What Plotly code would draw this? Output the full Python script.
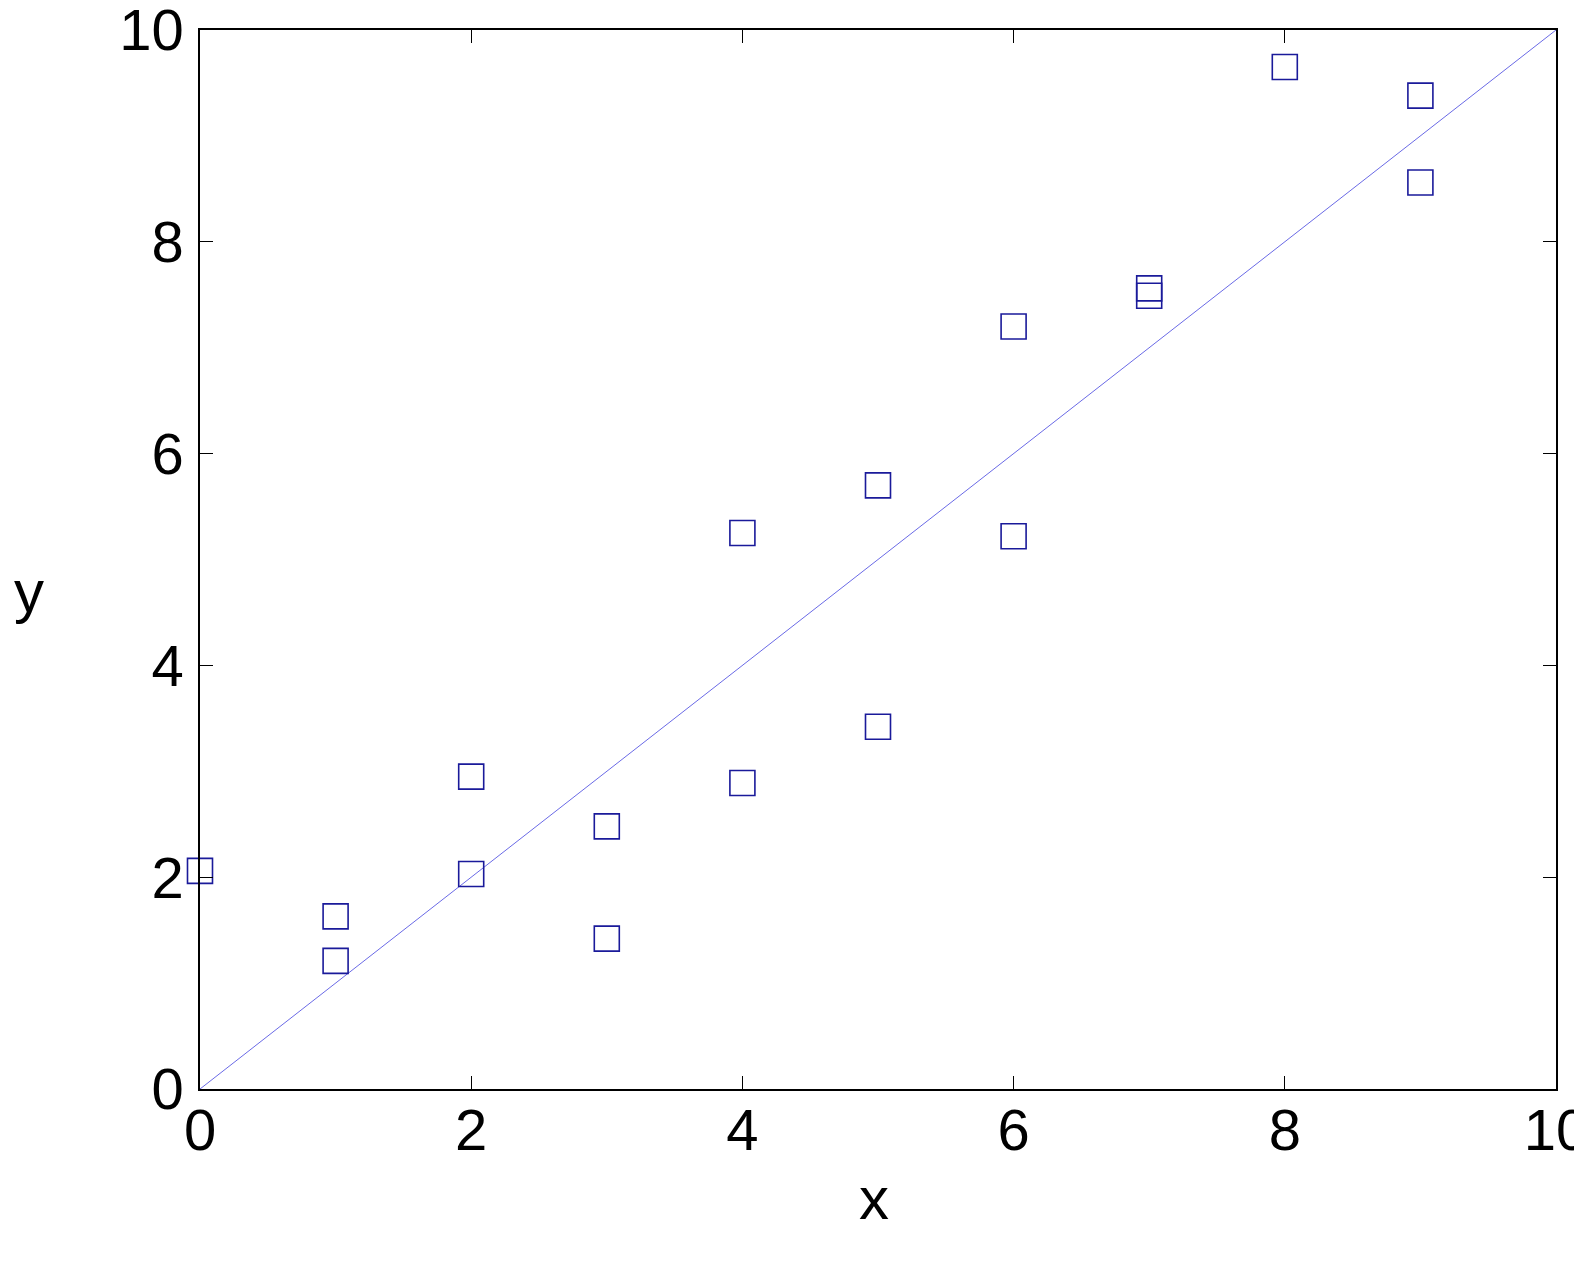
import plotly.graph_objects as go

# Scatter of observed y against x, with the y = x reference line.
INK = "#000000"
MARKER = "#1a1a9a"
LINE = "#6a6ae6"
FONT = "Liberation Sans, Arial, sans-serif"

x_pts = [0, 1, 1, 2, 2, 3, 3, 4, 4, 5, 5, 6, 6, 7, 7, 8, 9, 9]
y_pts = [2.06, 1.63, 1.21, 2.95, 2.03, 2.48, 1.42, 5.25, 2.89, 5.70, 3.42,
         7.20, 5.22, 7.56, 7.49, 9.65, 9.38, 8.56]

line_x = [0, 10]
line_y = [0, 10]

tick_vals = [0, 2, 4, 6, 8, 10]
tick_text = ["0", "2", "4", "6", "8", "10"]

fig = go.Figure()
fig.add_trace(
    go.Scatter(
        x=line_x,
        y=line_y,
        mode="lines",
        line={"color": LINE, "width": 1},
        hoverinfo="skip",
    )
)
fig.add_trace(
    go.Scatter(
        x=x_pts,
        y=y_pts,
        mode="markers",
        marker={
            "symbol": "square-open",
            "size": 25,
            "color": MARKER,
            "line": {"color": MARKER, "width": 1.6},
        },
        cliponaxis=False,
    )
)

axis_common = {
    "range": [0, 10],
    "tickvals": tick_vals,
    "ticktext": tick_text,
    "ticks": "inside",
    "ticklen": 13,
    "tickwidth": 1,
    "tickcolor": INK,
    "showline": True,
    "linecolor": INK,
    "linewidth": 1.5,
    "mirror": "ticks",
    "showgrid": False,
    "zeroline": False,
    "ticklabeloverflow": "allow",
    "tickfont": {"family": FONT, "size": 58, "color": INK},
}

# the page body adds an 8px offset, so margins are trimmed to suit
fig.update_layout(
    width=1582,
    height=1274,
    showlegend=False,
    paper_bgcolor="white",
    plot_bgcolor="white",
    font={"family": FONT, "color": INK},
    margin={"l": 192, "r": 34, "t": 22, "b": 193, "autoexpand": False},
    xaxis={**axis_common, "ticklabelstandoff": -10},
    yaxis={**axis_common, "ticklabelstandoff": 3},
    annotations=[
        {
            "text": "x",
            "xref": "paper",
            "yref": "paper",
            "x": 0.497,
            "y": -0.103,
            "xanchor": "center",
            "yanchor": "middle",
            "showarrow": False,
            "font": {"family": FONT, "size": 60, "color": INK},
        },
        {
            "text": "y",
            "xref": "paper",
            "yref": "paper",
            "x": -0.126,
            "y": 0.47,
            "xanchor": "center",
            "yanchor": "middle",
            "showarrow": False,
            "font": {"family": FONT, "size": 60, "color": INK},
        },
    ],
)

fig.write_html("out.html")
